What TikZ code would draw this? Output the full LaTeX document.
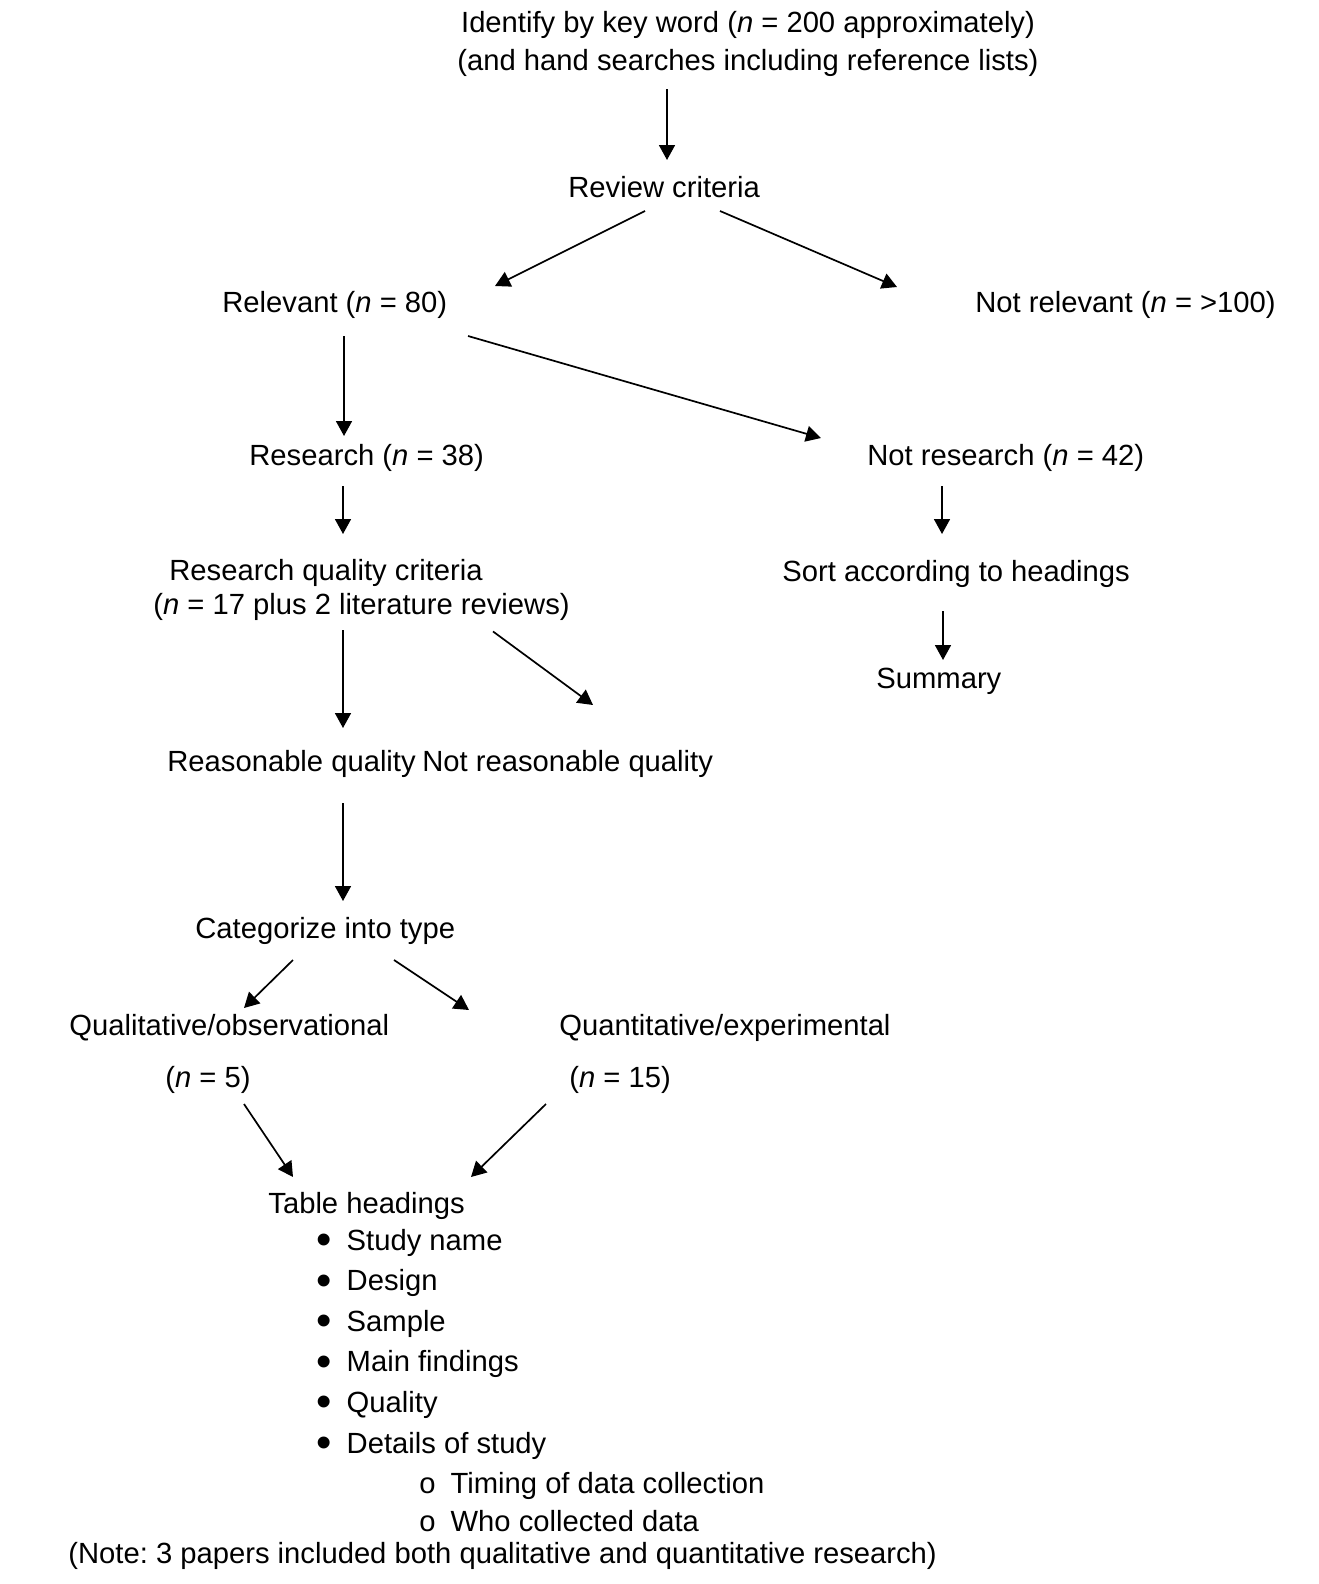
\documentclass[tikz,border=0pt]{standalone}
\usepackage{fontspec}
\setmainfont{Liberation Sans}
\usetikzlibrary{arrows.meta,calc}
\frenchspacing

\begin{document}
\begin{tikzpicture}[x=0.5pt, y=-0.5pt,
    font=\fontsize{14.6}{17.5}\selectfont,
    txt/.style={anchor=base west, inner sep=0pt},
    arr/.style={-{Triangle[length=7.5pt, width=8pt]}, line width=0.85pt}]
    \useasboundingbox (0,0) rectangle (1318,1584);

    % search and first screening
    \node[anchor=base, inner sep=0pt, align=center] (identify) at (748,71)
        {Identify by key word (\textit{n} = 200 approximately)\\[1.7pt](and hand searches including reference lists)};
    \node[txt] (review) at (568,197) {Review criteria};
    \node[txt] (relevant) at (222,312) {Relevant (\textit{n} = 80)};
    \node[txt] (notrel) at (975,312) {Not relevant (\textit{n} = >100)};
    \node[txt] (research) at (249,465) {Research (\textit{n} = 38)};
    \node[txt] (notresearch) at (867,465) {Not research (\textit{n} = 42)};

    % quality
    \node[txt, align=left] (rqc) at (153,614)
        {\hspace*{8pt}Research quality criteria\\[-0.8pt](\textit{n} = 17 plus 2 literature reviews)};
    \node[txt] (sort) at (782,581) {Sort according to headings};
    \node[txt] (summary) at (876,688) {Summary};
    \node[txt] (reasonable) at (167,771) {Reasonable quality};
    \node[txt] (notreasonable) at (422,771) {Not reasonable quality};

    % type
    \node[txt] (categorize) at (195,938) {Categorize into type};
    \node[txt] (qualitative) at (69,1035) {Qualitative/observational};
    \node[txt] (quantitative) at (559,1035) {Quantitative/experimental};
    \node[txt] (nqual) at (165,1087) {(\textit{n} = 5)};
    \node[txt] (nquant) at (569,1087) {(\textit{n} = 15)};

    % table headings
    \node[txt] (table) at (268,1213) {Table headings};
    \foreach \lbl [count=\i] in {Study name, Design, Sample, Main findings, Quality, Details of study}
        \node[txt] (item\i) at (316,{1250+40.6*(\i-1)})
            {\raisebox{-2.2pt}{\scalebox{1.5}{\textbullet}}\hspace{7.5pt}\lbl};
    \foreach \lbl [count=\i] in {Timing of data collection, Who collected data}
        \node[txt] (sub\i) at (419,{1493+38*(\i-1)}) {o\hspace{7.5pt}\lbl};
    \node[txt] (note) at (68,1563) {(Note: 3 papers included both qualitative and quantitative research)};

    % arrows
    \draw[arr] ($(identify.south)+(-81,12)$) -- ($(review.base west)+(99,-37)$);
    \draw[arr] ($(review.base west)+(77,14)$) -- ($(relevant.base west)+(273,-26)$);
    \draw[arr] ($(review.base west)+(152,14)$) -- ($(notrel.base west)+(-78,-25)$);
    \draw[arr] ($(relevant.base west)+(122,24)$) -- ($(research.base west)+(95,-29)$);
    \draw[arr] ($(relevant.base west)+(246,24)$) -- ($(notresearch.base west)+(-46,-27)$);
    \draw[arr] ($(research.base west)+(94,21)$) -- ($(rqc.base west)+(190,-80)$);
    \draw[arr] ($(notresearch.base west)+(75,21)$) -- ($(sort.base west)+(160,-47)$);
    \draw[arr] ($(sort.base west)+(161,30)$) -- ($(summary.base west)+(67,-28)$);
    \draw[arr] ($(rqc.south west)+(190,10)$) -- ($(reasonable.base west)+(176,-43)$);
    \draw[arr] ($(rqc.south west)+(340,11)$) -- ($(notreasonable.base west)+(171,-66)$);
    \draw[arr] ($(reasonable.base west)+(176,32)$) -- ($(categorize.base west)+(148,-37)$);
    \draw[arr] ($(categorize.base west)+(98,22)$) -- ($(qualitative.base west)+(175,-27)$);
    \draw[arr] ($(categorize.base west)+(199,22)$) -- ($(quantitative.base west)+(-90,-25)$);
    \draw[arr] ($(nqual.base west)+(79,17)$) -- ($(table.base west)+(25,-36)$);
    \draw[arr] ($(nquant.base west)+(-23,17)$) -- ($(table.base west)+(203,-36)$);
\end{tikzpicture}
\end{document}
